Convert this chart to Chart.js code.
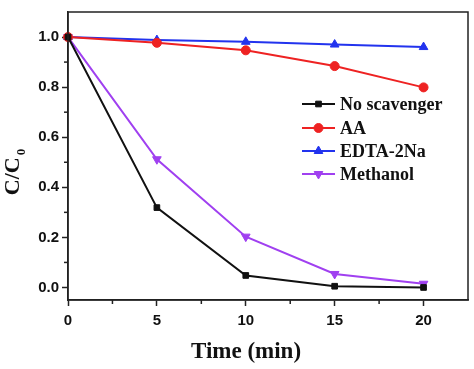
<!DOCTYPE html>
<html><head><meta charset="utf-8">
<script src="https://cdn.jsdelivr.net/npm/chart.js@4/dist/chart.umd.min.js"></script>
<style>html,body{margin:0;padding:0;background:#fff}#wrap{width:474px;height:369px}</style>
</head><body><div id="wrap"><canvas id="c" width="474" height="369"></canvas></div>
<script>
const times = [0, 5, 10, 15, 20];
const noScavenger = [1.0, 0.319, 0.048, 0.005, 0.0];
const aa = [1.0, 0.977, 0.947, 0.884, 0.799];
const edta = [1.0, 0.988, 0.981, 0.970, 0.960];
const methanol = [1.0, 0.512, 0.203, 0.054, 0.015];
const seriesNames = ['No scavenger', 'AA', 'EDTA-2Na', 'Methanol'];
const xTicks = [0, 2.5, 5, 7.5, 10, 12.5, 15, 17.5, 20];
const yTicks = [0, 0.1, 0.2, 0.3, 0.4, 0.5, 0.6, 0.7, 0.8, 0.9, 1.0];
const xTitle = 'Time (min)';

const colors = ['#111111', '#ee2222', '#2233ee', '#a040f0'];
const styles = ['rect', 'circle', 'triangle', 'triangle'];
const rots = [0, 0, 0, 180];
const radii = [4, 4.5, 5, 5];
const all = [noScavenger, aa, edta, methanol];

const datasets = all.map((arr, i) => ({
  label: seriesNames[i],
  data: arr.map((v, j) => ({x: times[j], y: v})),
  borderColor: colors[i], backgroundColor: colors[i],
  borderWidth: 2, pointStyle: styles[i], pointRotation: rots[i],
  pointRadius: radii[i], pointBorderWidth: 1, tension: 0, clip: false
}));

const isMajorX = v => Math.abs(v % 5) < 1e-6;
const isMajorY = v => Math.abs(Math.round(v * 10) % 2) === 0;

const decor = {
  id: 'decor',
  afterDraw(chart) {
    const ctx = chart.ctx, a = chart.chartArea;
    const xs = chart.scales.x, ys = chart.scales.y;
    ctx.save();
    ctx.strokeStyle = '#222'; ctx.lineWidth = 1.5;
    ctx.strokeRect(a.left, a.top, a.right - a.left, a.bottom - a.top);
    ctx.lineWidth = 1.5;
    xTicks.forEach(v => { if (!isMajorX(v)) { const p = xs.getPixelForValue(v); ctx.beginPath(); ctx.moveTo(p, a.bottom); ctx.lineTo(p, a.bottom + 4); ctx.stroke(); } });
    yTicks.forEach(v => { if (!isMajorY(v)) { const p = ys.getPixelForValue(v); ctx.beginPath(); ctx.moveTo(a.left, p); ctx.lineTo(a.left - 4, p); ctx.stroke(); } });
    // x title
    ctx.fillStyle = '#111';
    ctx.font = 'bold 23px "Liberation Serif", "Times New Roman", serif';
    ctx.textAlign = 'center'; ctx.textBaseline = 'alphabetic';
    ctx.fillText(xTitle, 246, 358);
    // y title with subscript
    ctx.save();
    ctx.translate(19, 172);
    ctx.rotate(-Math.PI / 2);
    ctx.font = 'bold 22px "Liberation Serif", "Times New Roman", serif';
    const main = 'C/C', sub = '0';
    const w1 = ctx.measureText(main).width;
    ctx.font = 'bold 13px "Liberation Serif", "Times New Roman", serif';
    const w2 = ctx.measureText(sub).width;
    const tot = w1 + w2 + 2;
    ctx.textAlign = 'left';
    ctx.font = 'bold 22px "Liberation Serif", "Times New Roman", serif';
    ctx.fillText(main, -tot / 2, 0);
    ctx.font = 'bold 13px "Liberation Serif", "Times New Roman", serif';
    ctx.fillText(sub, -tot / 2 + w1 + 2, 6);
    ctx.restore();
    // legend
    const rowsY = [104, 128, 151, 174];
    chart.data.datasets.forEach((ds, i) => {
      const y = rowsY[i];
      ctx.strokeStyle = ds.borderColor; ctx.lineWidth = 2;
      ctx.beginPath(); ctx.moveTo(302, y); ctx.lineTo(335, y); ctx.stroke();
      ctx.fillStyle = ds.backgroundColor; ctx.strokeStyle = ds.borderColor; ctx.lineWidth = 1;
      Chart.helpers.drawPoint(ctx, {pointStyle: ds.pointStyle, rotation: ds.pointRotation, radius: ds.pointRadius, borderWidth: 1}, 318.5, y);
      ctx.fillStyle = '#111';
      ctx.font = 'bold 18px "Liberation Serif", "Times New Roman", serif';
      ctx.textAlign = 'left'; ctx.textBaseline = 'middle';
      ctx.fillText(ds.label, 340, y + 1);
    });
    ctx.restore();
  }
};

new Chart(document.getElementById('c'), {
  type: 'line',
  data: {datasets},
  options: {
    responsive: false, animation: false, devicePixelRatio: 1,
    layout: {padding: {top: 3, right: 5, left: 0, bottom: 0}},
    plugins: {legend: {display: false}, tooltip: {enabled: false}},
    scales: {
      x: {
        type: 'linear', min: 0, max: 22.5,
        afterBuildTicks: s => { s.ticks = xTicks.map(v => ({value: v})); },
        afterFit: s => { s.height = 69; },
        ticks: {autoSkip: false, maxRotation: 0, padding: 6, color: '#111',
          font: {family: '"Liberation Sans", Arial, sans-serif', size: 15, weight: 'bold'},
          callback: v => isMajorX(v) ? String(v) : ''},
        grid: {drawOnChartArea: false, tickLength: 6, tickWidth: 1.5,
          tickColor: c => isMajorX(c.tick ? c.tick.value : 0) ? '#222' : 'rgba(0,0,0,0)'},
        border: {display: true, color: '#222', width: 1.5}
      },
      y: {
        type: 'linear', min: -0.05, max: 1.1,
        afterBuildTicks: s => { s.ticks = yTicks.map(v => ({value: v})); },
        afterFit: s => { s.width = 68; },
        ticks: {autoSkip: false, padding: 3, color: '#111',
          font: {family: '"Liberation Sans", Arial, sans-serif', size: 15, weight: 'bold'},
          callback: v => isMajorY(v) ? v.toFixed(1) : ''},
        grid: {drawOnChartArea: false, tickLength: 6, tickWidth: 1.5,
          tickColor: c => isMajorY(c.tick ? c.tick.value : 0) ? '#222' : 'rgba(0,0,0,0)'},
        border: {display: true, color: '#222', width: 1.5}
      }
    }
  },
  plugins: [decor]
});
</script>
</body></html>
